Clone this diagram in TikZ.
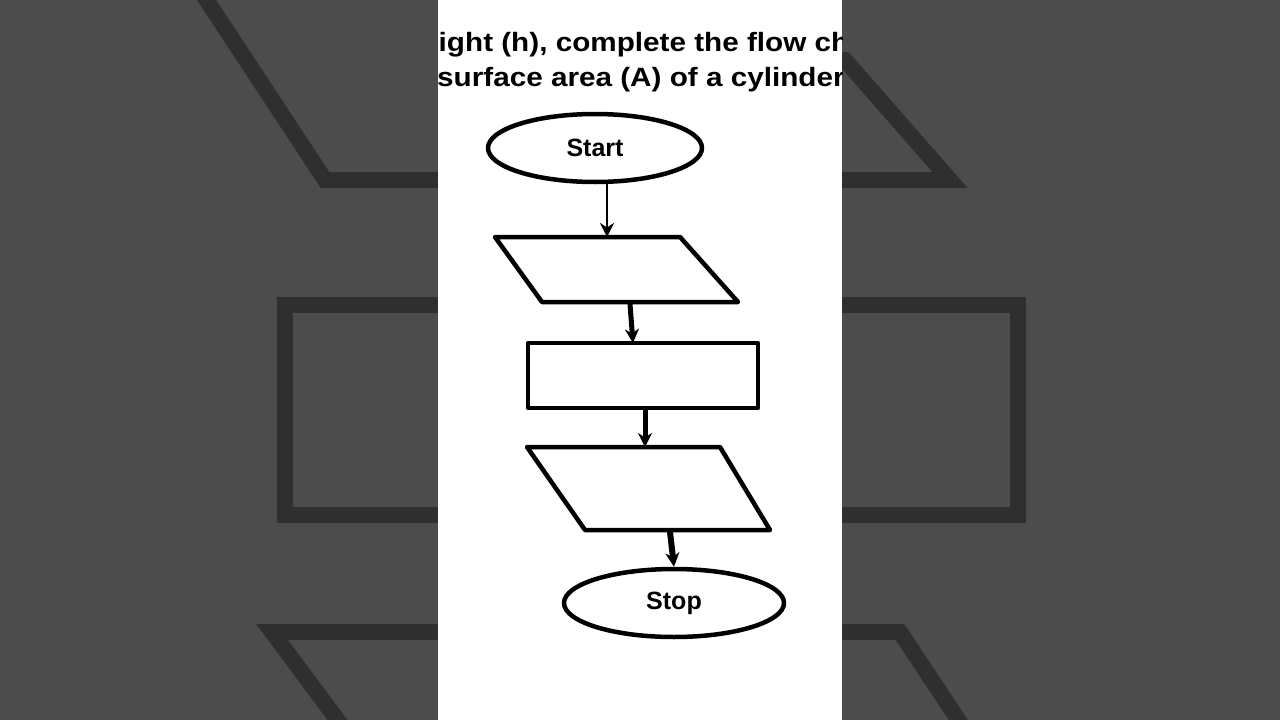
\documentclass[tikz,border=0pt]{standalone}
\usepackage{fontspec}
\setmainfont{Liberation Sans}
\usetikzlibrary{arrows.meta,shapes.geometric}
\begin{document}
\begin{tikzpicture}[x=1pt,y=-1pt,
  shp/.style={draw,line width=4.5pt,line join=round,black},
  bgl/.style={line width=16pt,color=black!85,opacity=0.75,line cap=round},
  arr/.style={-{Stealth[length=14pt,width=14pt]},black},
  ttl/.style={anchor=base west,font=\bfseries\fontsize{26.5}{30}\selectfont,inner sep=0pt,xscale=1.12}]
\fill[black!70] (0,0) rectangle (1280,720);
\useasboundingbox (0,0) rectangle (1280,720);
% blurred background copy
\draw[bgl] (200,-10) -- (325,180) -- (440,180);
\draw[bgl] (840,180) -- (950,180) -- (845,60);
\draw[bgl] (438,305) -- (285,305) -- (285,515) -- (438,515);
\draw[bgl] (842,305) -- (1018,305) -- (1018,515) -- (842,515);
\draw[bgl] (438,632) -- (272,632) -- (345,730);
\draw[bgl] (842,632) -- (900,632) -- (965,730);
% white strip
\fill[white] (438,0) rectangle (842,720);
\begin{scope}
\clip (438,0) rectangle (842,720);
\node[ttl] (t1) at (422,51) {eight (h), complete the flow chart};
\node[ttl] (t2) at (437,86) {surface area (A) of a cylinder.};
\end{scope}
% shapes
\node[ellipse,shp,minimum width=214pt,minimum height=68pt,font=\bfseries\fontsize{25}{30}\selectfont] (start) at (595,148) {Start};
\draw[shp] (495,237) -- (680,237) -- (738,302) -- (542,302) -- cycle;
\coordinate (p1t) at (607,237); \coordinate (p1b) at (630,304);
\draw[shp] (528,343) rectangle (758,408);
\coordinate (rt) at (633,343); \coordinate (rb) at (645,410);
\draw[shp] (527,447) -- (720,447) -- (770,530) -- (585,530) -- cycle;
\coordinate (p2t) at (645,447); \coordinate (p2b) at (670,532);
\node[ellipse,shp,minimum width=220pt,minimum height=68pt,font=\bfseries\fontsize{25}{30}\selectfont] (stop) at (674,603) {Stop};
% arrows
\draw[arr,line width=2.5pt] (start.south -| p1t) -- (p1t);
\draw[arr,line width=5pt] (p1b) -- (rt);
\draw[arr,line width=5pt] (rb) -- (p2t);
\draw[arr,line width=6pt] (p2b) -- (stop.north);
\end{tikzpicture}
\end{document}
